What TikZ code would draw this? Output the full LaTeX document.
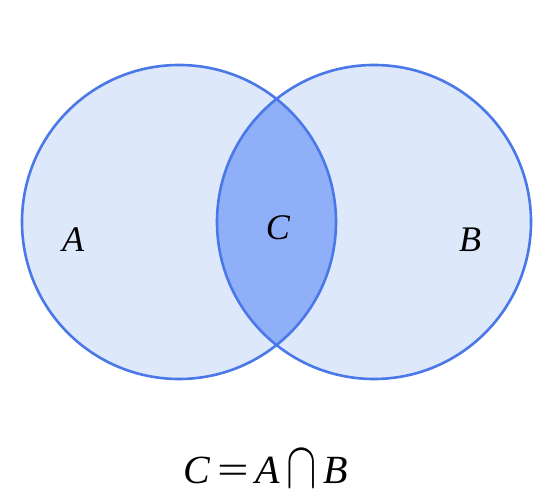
\documentclass[tikz,border=0pt]{standalone}
\usepackage{fontspec}
\setmainfont{Liberation Serif}
\definecolor{vline}{HTML}{4A78E8}
\definecolor{vfill}{HTML}{DEE8FB}
\definecolor{vcap}{HTML}{8FB0F8}
\tikzstyle{setlbl}=[inner sep=0, font=\fontsize{18}{21}\selectfont\itshape]
\tikzstyle{setline}=[draw=vline, line width=1.3pt]
\begin{document}
\begin{tikzpicture}[x=0.5pt, y=-0.5pt]
\useasboundingbox (0,0) rectangle (557,491);
\fill[white] (0,0) rectangle (557,491);
\fill[vfill] (179,222) circle (157);
\fill[vfill] (374,222) circle (157);
\begin{scope}
\clip (179,222) circle (157);
\fill[vcap] (374,222) circle (157);
\end{scope}
\draw[setline] (179,222) circle (157);
\draw[setline] (374,222) circle (157);
\node at (73,240)[setlbl](A){A};
\node at (278,228)[setlbl](C){C};
\node at (470,240)[setlbl](B){B};
\node at (266,469)[inner sep=0, font=\fontsize{20}{24}\selectfont](eq){\textit{C}\,\scalebox{1.4}[1]{=}\,\textit{A}\,\raisebox{-0.1em}{\scalebox{1.1}[1.6]{$\cap$}}\,\textit{B}};
\end{tikzpicture}
\end{document}
